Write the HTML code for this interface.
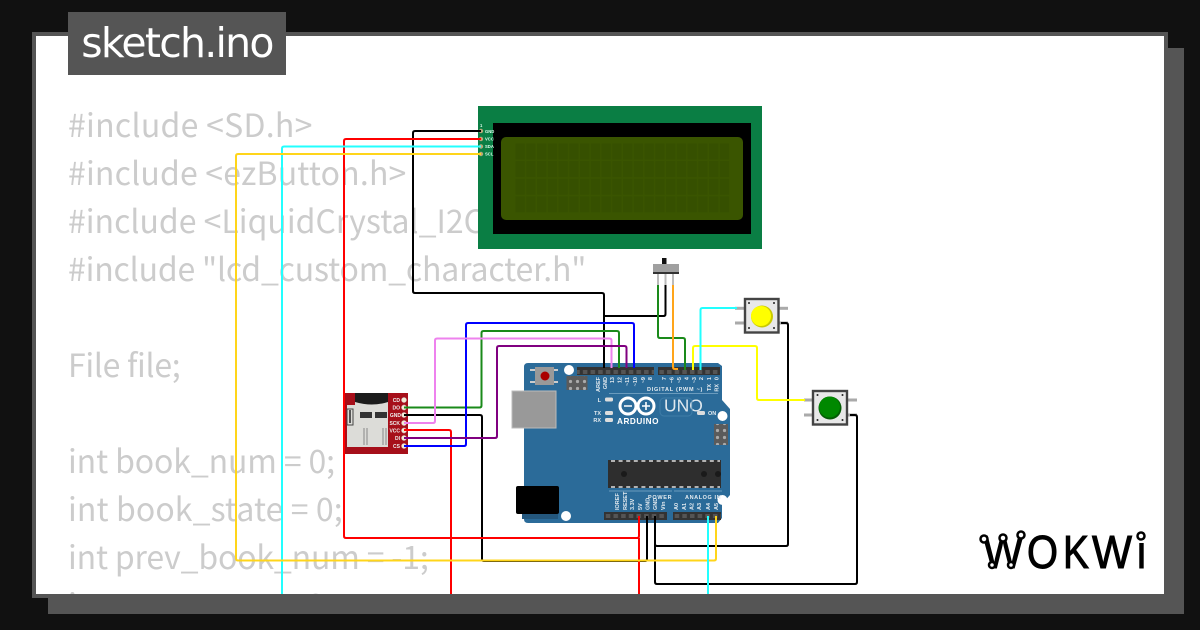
<!DOCTYPE html>
<html><head><meta charset="utf-8"><style>
html,body{margin:0;padding:0;width:1200px;height:630px;overflow:hidden;background:#111}
svg{position:absolute;left:0;top:0}
.l{position:absolute;left:36px;top:36px;width:1128px;height:558px;overflow:hidden;background:#fff}
.code{position:absolute;left:32px;top:64px;font:32px/48px "Noto Sans CJK JP",sans-serif;color:#ccc;white-space:pre}
.lab{font:bold 5.5px "Liberation Sans",sans-serif;fill:#e4ebf0}
.sd{font:bold 5px "Liberation Sans",sans-serif;fill:#eee}
.w{fill:none;stroke-width:2;stroke-linejoin:round}
.wk{font:46px "Liberation Sans",sans-serif;fill:#000;stroke:#000;stroke-width:1}
</style></head><body>
<div style="position:absolute;left:48px;top:48px;width:1136px;height:566px;background:#555"></div>
<div style="position:absolute;left:32px;top:32px;width:1128px;height:558px;border:4px solid #555;background:#fff"></div>
<div class="l"><div class="code"><span style="letter-spacing:.27px">#include &lt;SD.h&gt;</span>
<span style="letter-spacing:.18px">#include &lt;ezButton.h&gt;</span>
#include &lt;LiquidCrystal_I2C.h&gt;
<span style="letter-spacing:-.18px">#include "lcd_custom_character.h"</span>

<span style="letter-spacing:-.3px">File file;</span>

<span style="letter-spacing:-.12px">int book_num = 0;</span>
<span style="letter-spacing:.1px">int book_state = 0;</span>
<span style="letter-spacing:-.17px">int prev_book_num = -1;</span>
int page_num = 0;</div><div class="code" style="left:592px;top:544px">1</div></div>
<div style="position:absolute;left:68px;top:12px;width:218px;height:63px;background:#555;color:#fff;font:41px/63px 'DejaVu Sans',sans-serif;letter-spacing:-1.75px;text-align:center">sketch.ino</div>
<svg width="1200" height="630" viewBox="0 0 1200 630" xmlns="http://www.w3.org/2000/svg">
<defs>
<pattern id="hp" x="0" y="0" width="7.65" height="8" patternUnits="userSpaceOnUse"><rect width="7.65" height="8" fill="#333"/><rect x="1.5" y="2" width="4.5" height="4" fill="#555"/></pattern>
<pattern id="ic" x="0" y="0" width="7" height="7" patternUnits="userSpaceOnUse"><rect width="7" height="7" fill="#5b5b5b"/><circle cx="3.5" cy="3.5" r="1.6" fill="#aaa"/></pattern>
<pattern id="lc" x="515" y="143" width="10.75" height="17.6" patternUnits="userSpaceOnUse"><rect width="10.75" height="17.6" fill="#3a5500"/><rect x="0.5" y="0.5" width="9.4" height="16" fill="#365000"/></pattern>
</defs>

<!-- LCD -->
<rect x="478" y="106" width="284" height="143" fill="#0a7e44"/>
<rect x="493" y="123" width="258" height="111" fill="#000"/>
<rect x="501" y="137" width="242" height="83" rx="5" fill="#3a5500"/>
<rect x="515" y="143" width="215" height="70.4" fill="url(#lc)"/>
<g fill="#b8a878"><circle cx="481" cy="131" r="2.2"/><circle cx="481" cy="139" r="2.2"/><circle cx="481" cy="146.5" r="2.2"/><circle cx="481" cy="154" r="2.2"/></g>
<g style="font:bold 4.2px 'Liberation Sans',sans-serif" fill="#dfe"><text x="485" y="133">GND</text><text x="485" y="140.5">VCC</text><text x="485" y="148">SDA</text><text x="485" y="155.5">SCL</text><text x="480" y="127">1</text></g>

<!-- Arduino -->
<path d="M528 363H718L722 366V400L730 409V495L722 504V518L718 523H528Q524 523 524 519V367Q524 363 528 363Z" fill="#2b6b99"/>
<rect x="577" y="367" width="77" height="8" fill="url(#hp)"/>
<rect x="658" y="367" width="62" height="8" fill="url(#hp)"/>
<rect x="604" y="512" width="63" height="8" fill="url(#hp)"/>
<rect x="673" y="512" width="48" height="8" fill="url(#hp)"/>
<circle cx="569" cy="370" r="5" fill="#fff"/><circle cx="722.5" cy="416" r="5" fill="#fff"/><circle cx="722.5" cy="500" r="5" fill="#fff"/><circle cx="566" cy="516" r="5" fill="#fff"/>
<rect x="535" y="367" width="19" height="18" fill="#999"/><rect x="530" y="369" width="5" height="2" fill="#ccc"/><rect x="530" y="381" width="5" height="2" fill="#ccc"/><rect x="554" y="369" width="4" height="2" fill="#ccc"/><rect x="554" y="381" width="4" height="2" fill="#ccc"/>
<circle cx="545" cy="376" r="4.5" fill="#a00"/>
<rect x="566.5" y="376" width="21" height="14" fill="url(#ic)"/>
<rect x="714" y="424" width="14" height="21" fill="url(#ic)"/>
<rect x="512" y="391" width="44" height="37" fill="#999" stroke="#bbb" stroke-width="1"/>
<rect x="516" y="486" width="43" height="28" rx="2" fill="#000"/>
<rect x="522" y="514" width="36" height="5" fill="#24577d"/>
<rect x="608" y="460" width="113" height="28" fill="#2e2e2e"/>
<path d="M611 461H720M611 487H720" stroke="#ddd" stroke-width="1.4" stroke-dasharray="4 3.6"/>
<circle cx="624" cy="474" r="3" fill="#1a1a1a"/><circle cx="704" cy="474" r="3" fill="#1a1a1a"/><circle cx="718" cy="474" r="3" fill="#1a1a1a"/>
<path d="M609 393.5H718" stroke="#6a9bbd" stroke-width="1"/>
<path d="M609 491H672M674 491H722" stroke="#6a9bbd" stroke-width="1" fill="none"/>
<g fill="none" stroke="#fff" stroke-width="3"><circle cx="628" cy="406" r="8"/><circle cx="646" cy="406" r="8"/></g>
<path d="M624 406H632M642 406H650M646 402V410" stroke="#fff" stroke-width="1.6"/>
<text x="617" y="424" style="font:bold 8.2px 'Liberation Sans',sans-serif;letter-spacing:.55px" fill="#fff">ARDUINO</text>
<text x="664" y="411.5" style="font:17.5px 'Liberation Sans',sans-serif" fill="#dfe8ee">UNO</text>
<rect x="660" y="398" width="32" height="18" rx="4" fill="none" stroke="#3f7da8" stroke-width="1"/>
<rect x="697" y="411" width="8" height="4" rx="1.5" fill="#ddd"/><text x="708" y="415" class="lab">ON</text>
<rect x="605" y="397.5" width="8" height="4" rx="1.5" fill="#ddd"/>
<rect x="605" y="411" width="8" height="4" rx="1.5" fill="#ddd"/>
<rect x="605" y="418" width="8" height="4" rx="1.5" fill="#ddd"/>
<text x="601" y="402" class="lab" text-anchor="end">L</text>
<text x="601" y="415" class="lab" text-anchor="end">TX</text>
<text x="601" y="422" class="lab" text-anchor="end">RX</text>
<text x="647" y="391" style="font:bold 5.5px 'Liberation Sans',sans-serif;letter-spacing:.75px" fill="#e4ebf0">DIGITAL (PWM ~)</text>
<g class="lab" text-anchor="end">
<text transform="translate(600 377) rotate(-90)">AREF</text><text transform="translate(607 377) rotate(-90)">GND</text><text transform="translate(614 377) rotate(-90)">13</text><text transform="translate(621.5 377) rotate(-90)">12</text><text transform="translate(629 377) rotate(-90)">~11</text><text transform="translate(637 377) rotate(-90)">~10</text><text transform="translate(645 377) rotate(-90)">~9</text><text transform="translate(652 377) rotate(-90)">8</text>
<text transform="translate(666 377) rotate(-90)">7</text><text transform="translate(673.5 377) rotate(-90)">~6</text><text transform="translate(681 377) rotate(-90)">~5</text><text transform="translate(688.5 377) rotate(-90)">4</text><text transform="translate(696 377) rotate(-90)">~3</text><text transform="translate(703 377) rotate(-90)">2</text><text transform="translate(711 377) rotate(-90)">1</text><text transform="translate(718.5 377) rotate(-90)">0</text>
<text transform="translate(711 384) rotate(-90)">TX</text><text transform="translate(718.5 384) rotate(-90)">RX</text>
</g>
<g class="lab">
<text transform="translate(619 510) rotate(-90)">IOREF</text><text transform="translate(627 510) rotate(-90)">RESET</text><text transform="translate(634 510) rotate(-90)">3.3V</text><text transform="translate(642 510) rotate(-90)">5V</text><text transform="translate(649.5 510) rotate(-90)">GND</text><text transform="translate(657 510) rotate(-90)">GND</text><text transform="translate(665 510) rotate(-90)">Vin</text>
<text transform="translate(678 510) rotate(-90)">A0</text><text transform="translate(686 510) rotate(-90)">A1</text><text transform="translate(693.5 510) rotate(-90)">A2</text><text transform="translate(701 510) rotate(-90)">A3</text><text transform="translate(710 510) rotate(-90)">A4</text><text transform="translate(718 510) rotate(-90)">A5</text>
</g>
<text x="648" y="499" style="font:bold 5.5px 'Liberation Sans',sans-serif;letter-spacing:.7px" fill="#e4ebf0">POWER</text>
<text x="685" y="499" style="font:bold 5.5px 'Liberation Sans',sans-serif;letter-spacing:.6px" fill="#e4ebf0">ANALOG IN</text>

<!-- SD module -->
<rect x="344" y="393" width="64" height="61" fill="#a60f1a"/>
<path d="M347 405H355V402H388V447H347Z" fill="#dcdcd8"/>
<path d="M355 393H388V402Q372 407 355 402Z" fill="#1c1c1c"/>
<rect x="360" y="412" width="12" height="6" fill="#333"/><rect x="375" y="412" width="12" height="6" fill="#333"/>
<rect x="347" y="409" width="6" height="16" fill="none" stroke="#444" stroke-width="1"/><rect x="349" y="410" width="2" height="13" fill="#555"/>
<path d="M364 428V445M367 428V445M383 428V445M386 428V445" stroke="#888" stroke-width="1"/>
<g fill="#f3ecd6" stroke="#b89" stroke-width=".5"><circle cx="404" cy="400" r="2.6"/><circle cx="404" cy="407.5" r="2.6"/><circle cx="404" cy="415" r="2.6"/><circle cx="404" cy="423" r="2.6"/><circle cx="404" cy="430.5" r="2.6"/><circle cx="404" cy="438" r="2.6"/><circle cx="404" cy="446" r="2.6"/></g>
<g class="sd" text-anchor="end"><text x="400" y="402">CD</text><text x="400" y="409.5">DO</text><text x="401" y="417">GND</text><text x="400" y="425">SCK</text><text x="400" y="432.5">VCC</text><text x="400" y="440">DI</text><text x="400" y="448">CS</text></g>

<!-- Slide switch -->
<rect x="662" y="258" width="4.5" height="7" fill="#111"/>
<rect x="653" y="264" width="26" height="10" fill="#a0a0a0"/>
<rect x="653" y="272" width="26" height="2" fill="#333"/>
<path d="M658 274V286M665.5 274V286M673 274V286" stroke="#bbb" stroke-width="2"/>

<!-- Buttons -->
<g fill="#aaa">
<rect x="735" y="306.8" width="10" height="3"/><rect x="735" y="321.5" width="10" height="3"/><rect x="778" y="306.8" width="10" height="3"/><rect x="778" y="321.5" width="10" height="3"/>
<rect x="804" y="398.5" width="10" height="3"/><rect x="804" y="413.5" width="10" height="3"/><rect x="847" y="398.5" width="10" height="3"/><rect x="847" y="413.5" width="10" height="3"/>
</g>
<rect x="745" y="299" width="33.5" height="33.5" fill="#e8e8e8" stroke="#444" stroke-width="2.4"/>
<g fill="#222"><circle cx="749" cy="303" r="1"/><circle cx="774" cy="303" r="1"/><circle cx="749" cy="328" r="1"/><circle cx="774" cy="328" r="1"/></g>
<circle cx="762" cy="316.5" r="11" fill="#c9c900"/><circle cx="761" cy="316" r="10" fill="#ff0"/>
<rect x="813" y="391" width="34" height="33.5" fill="#e8e8e8" stroke="#444" stroke-width="2.4"/>
<g fill="#222"><circle cx="817.5" cy="395" r="1"/><circle cx="842.5" cy="395" r="1"/><circle cx="817.5" cy="420" r="1"/><circle cx="842.5" cy="420" r="1"/></g>
<circle cx="830" cy="408" r="11.5" fill="#045c04"/><circle cx="829.5" cy="407" r="10.5" fill="#080"/>

<!-- Wires -->
<g class="w">
<path stroke="#000" d="M404 415H480Q482 415 482 417V559Q482 561 484 561H645Q647 561 647 559V516"/>
<path stroke="#000" d="M655 516V582Q655 584 657 584H855Q857 584 857 582V417Q857 415 855 415H850"/>
<path stroke="#000" d="M655 544Q655 546 657 546H786Q788 546 788 544V325Q788 323 786 323H781"/>
<path stroke="#000" d="M481 131H415Q413 131 413 133V291Q413 293 415 293H602Q604 293 604 295V368"/>
<path stroke="#000" d="M665.5 285V314Q665.5 316 663.5 316H604"/>
<path stroke="#f00" d="M481 139H346Q344 139 344 141V536Q344 538 346 538H637Q639 538 639 536V516M639 538V594"/>
<path stroke="#f00" d="M404 430H449Q451 430 451 432V594"/>
<path stroke="#2ff" d="M481 146.5H284Q282 146.5 282 148.5V594"/>
<path stroke="#ffd51a" d="M481 154H238Q236 154 236 156V558.5Q236 560.5 238 560.5H714Q716 560.5 716 558.5V516"/>
<path stroke="#2ff" d="M708 516V594"/>
<path stroke="#1a8a1a" d="M404 407.5H479.5Q481.5 407.5 481.5 405.5V333Q481.5 331 483.5 331H617Q619 331 619 333V368"/>
<path stroke="#00f" d="M404 446H464Q466 446 466 444V325Q466 323 468 323H632Q634 323 634 325V368"/>
<path stroke="#ee82ee" d="M404 423H433Q435 423 435 421V340.5Q435 338.5 437 338.5H609.5Q611.5 338.5 611.5 340.5V368"/>
<path stroke="#800080" d="M404 438H495Q497 438 497 436V348Q497 346 499 346H624.5Q626.5 346 626.5 348V368"/>
<path stroke="#1a8a1a" d="M658 285V336Q658 338 660 338H683Q685 338 685 340V370"/>
<path stroke="#ffa51a" d="M673 285V367Q673 369 675 369H678"/>
<path stroke="#ff0" d="M693 370V348Q693 346 695 346H755Q757 346 757 348V398Q757 400 759 400H805"/>
<path stroke="#2ff" d="M700.5 370V310Q700.5 308 702.5 308H737"/>
</g>

<!-- Wokwi logo -->
<text class="wk" x="983" y="568" textLength="40" lengthAdjust="spacingAndGlyphs">W</text>
<text class="wk" x="1027" y="568" textLength="31" lengthAdjust="spacingAndGlyphs">O</text>
<text class="wk" x="1063" y="568" textLength="26" lengthAdjust="spacingAndGlyphs">K</text>
<text class="wk" x="1092" y="568" textLength="40" lengthAdjust="spacingAndGlyphs">W</text>
<text class="wk" x="1137" y="568" textLength="9" lengthAdjust="spacingAndGlyphs">i</text>
<g fill="#fff" stroke="#000" stroke-width="2.5"><circle cx="984" cy="539" r="3.5"/><circle cx="1003" cy="538" r="3.5"/><circle cx="1021" cy="535" r="3.5"/><circle cx="992" cy="565" r="3"/><circle cx="1011" cy="565" r="3"/><circle cx="1141" cy="536" r="3.5"/></g>
</svg>
</body></html>
